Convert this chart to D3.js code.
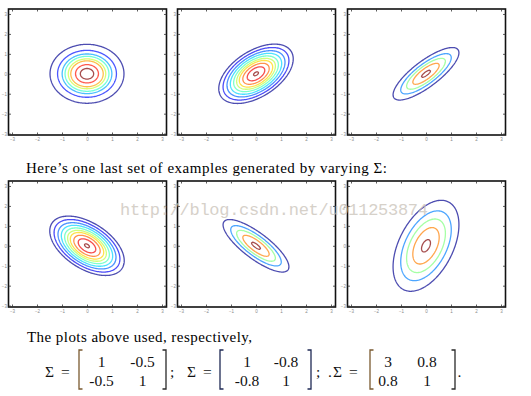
<!DOCTYPE html>
<html>
<head>
<meta charset="utf-8">
<script src="https://cdnjs.cloudflare.com/ajax/libs/d3/7.8.5/d3.min.js"></script>
<style>
  body { margin: 0; background: #fff; }
  text { font-family: "Liberation Serif", "DejaVu Serif", serif; }
</style>
</head>
<body>
<div id="root"></div>
<script>
// covariance of each panel as plotted, row by row
var sxx = [1, 1, 1, 1, 1, 1];
var syy = [1, 1, 1, 1, 1, 3];
var sxy = [0, 0.5, 0.8, -0.5, -0.8, 0.8];

// contour levels as a fraction of the panel's peak density (outer -> inner)
var levels = [
  [0.335, 0.50, 0.61, 0.68, 0.755, 0.81, 0.90, 0.965],
  [0.33, 0.42, 0.51, 0.59, 0.67, 0.74, 0.80, 0.87, 0.94, 0.995],
  [0.42, 0.60, 0.74, 0.87, 0.984],
  [0.33, 0.42, 0.51, 0.59, 0.67, 0.74, 0.80, 0.87, 0.94, 0.995],
  [0.42, 0.60, 0.74, 0.87, 0.984],
  [0.42, 0.60, 0.74, 0.87, 0.984]
];

var ticks = [-3, -2, -1, 0, 1, 2, 3];

// entries of the three matrices in the caption (row by row)
var matrices = [
  ["1", "-0.5", "-0.5", "1"],
  ["1", "-0.8", "-0.8", "1"],
  ["3", "0.8", "0.8", "1"]
];

var W = 531, H = 396;
var panelW = 158, panelH = 126;
var colX = [8.5, 177.5, 347.5], rowY = [9, 181];

var svg = d3.select("#root").append("svg")
    .attr("width", W)
    .attr("height", H)
    .style("display", "block");

// matlab jet colormap, washed out like the thin lines in the scan
var jet = d3.scaleLinear()
    .domain([0, 0.125, 0.375, 0.625, 0.875, 1])
    .range(["#00008f", "#0000ff", "#00ffff", "#ffff00", "#ff0000", "#800000"]);
function lineColor(t) { return d3.interpolateRgb(jet(t), "#ffffff")(0.3); }

// density grid
var step = 0.04, g0 = -3.3, n = 167;

function drawPanel(k) {
  var px = colX[k % 3], py = rowY[Math.floor(k / 3)];
  var x = d3.scaleLinear().domain([-3.14, 3.18]).range([px, px + panelW]);
  var y = d3.scaleLinear().domain([-3.07, 3.25]).range([py + panelH, py]);

  var g = svg.append("g");

  var det = sxx[k] * syy[k] - sxy[k] * sxy[k];
  var values = new Array(n * n);
  for (var j = 0; j < n; j++) {
    for (var i = 0; i < n; i++) {
      var a = g0 + i * step, b = g0 + j * step;
      var m = (syy[k] * a * a - 2 * sxy[k] * a * b + sxx[k] * b * b) / det;
      values[j * n + i] = Math.exp(-0.5 * m);
    }
  }

  var lv = levels[k];
  var contours = d3.contours().size([n, n]).thresholds(lv)(values);
  var path = d3.geoPath(d3.geoTransform({
    point: function(cx, cy) {
      this.stream.point(x(g0 + (cx - 0.5) * step), y(g0 + (cy - 0.5) * step));
    }
  }));

  g.selectAll(".ring")
    .data(contours)
    .enter().append("path")
      .attr("class", "ring")
      .attr("d", path)
      .attr("fill", "none")
      .attr("stroke", function(d, i) { return lineColor(lv.length > 1 ? i / (lv.length - 1) : 0); })
      .attr("stroke-width", 1.3)
      .attr("stroke-linejoin", "round");

  // frame
  g.append("rect")
    .attr("x", px).attr("y", py)
    .attr("width", panelW).attr("height", panelH)
    .attr("fill", "none")
    .attr("stroke", "#111")
    .attr("stroke-width", 1.6);

  // inward ticks on all four sides
  var tl = 2.5;
  g.append("g").attr("transform", "translate(0," + (py + panelH) + ")")
    .call(d3.axisBottom(x).tickValues(ticks).tickSize(-tl).tickFormat(d3.format("d")).tickPadding(2.5));
  g.append("g").attr("transform", "translate(0," + py + ")")
    .call(d3.axisTop(x).tickValues(ticks).tickSize(-tl).tickFormat(""));
  g.append("g").attr("transform", "translate(" + px + ",0)")
    .call(d3.axisLeft(y).tickValues(ticks).tickSize(-tl).tickFormat(d3.format("d")).tickPadding(1.5));
  g.append("g").attr("transform", "translate(" + (px + panelW) + ",0)")
    .call(d3.axisRight(y).tickValues(ticks).tickSize(-tl).tickFormat(""));

  g.selectAll(".domain").remove();
  g.selectAll(".tick line").attr("stroke", "#333").attr("stroke-width", 0.8);
  g.selectAll(".tick text")
    .attr("font-size", 4.5)
    .attr("fill", "#8a8a8a")
    .style("font-family", "'Liberation Sans', sans-serif");
}

for (var k = 0; k < 6; k++) drawPanel(k);

// captions
svg.append("text")
  .attr("x", 26).attr("y", 172.5)
  .attr("font-size", 15)
  .attr("textLength", 361).attr("lengthAdjust", "spacing")
  .text("Here\u2019s one last set of examples generated by varying \u03A3:");

svg.append("text")
  .attr("x", 27).attr("y", 341.5)
  .attr("font-size", 15)
  .attr("textLength", 225).attr("lengthAdjust", "spacing")
  .text("The plots above used, respectively,");

// matrix row layout
var mLayout = [
  {sig: 45,  lb: 79,  c1: 101.5, c2: 142.5, rb: 166, after: ";", ax: 170, pre: ""},
  {sig: 187, lb: 220, c1: 247,   c2: 286,   rb: 311, after: ";", ax: 316, pre: ""},
  {sig: 333, lb: 370, c1: 388,   c2: 427,   rb: 455, after: ".", ax: 457.5, pre: "."}
];
var bracketColor = ["#7a5a30", "#1f2a55", "#7a5a30"];
var rbColor = ["#2a2a2a", "#1f2a55", "#2a2a2a"];
var row1 = 366.5, row2 = 386, midBase = 377, bTop = 350, bBot = 389;

matrices.forEach(function(mv, i) {
  var L = mLayout[i];
  var t = svg.append("g").attr("font-size", 15.5).attr("fill", "#111");
  if (L.pre) t.append("text").attr("x", L.sig - 5).attr("y", midBase).text(L.pre);
  t.append("text").attr("x", L.sig).attr("y", midBase).text("\u03A3");
  t.append("text").attr("x", L.sig + 16).attr("y", midBase).text("=");
  t.append("path")
    .attr("d", "M" + (L.lb + 3.5) + "," + bTop + "H" + L.lb + "V" + bBot + "H" + (L.lb + 3.5))
    .attr("fill", "none").attr("stroke", bracketColor[i]).attr("stroke-width", 1.3);
  t.append("path")
    .attr("d", "M" + (L.rb - 3.5) + "," + bTop + "H" + L.rb + "V" + bBot + "H" + (L.rb - 3.5))
    .attr("fill", "none").attr("stroke", rbColor[i]).attr("stroke-width", 1.3);
  [[L.c1, row1], [L.c2, row1], [L.c1, row2], [L.c2, row2]].forEach(function(p, j) {
    t.append("text").attr("x", p[0]).attr("y", p[1])
      .attr("text-anchor", "middle").text(mv[j]);
  });
  t.append("text").attr("x", L.ax).attr("y", midBase).text(L.after);
});

// watermark (lies over the plots, as in the scan)
svg.append("text")
  .attr("x", 120).attr("y", 215)
  .attr("font-size", 17)
  .attr("fill", "#c9c2b8")
  .attr("opacity", 0.75)
  .style("font-family", "'Liberation Mono', 'DejaVu Sans Mono', monospace")
  .attr("textLength", 308).attr("lengthAdjust", "spacing")
  .text("http://blog.csdn.net/u011253874");
</script>
</body>
</html>
